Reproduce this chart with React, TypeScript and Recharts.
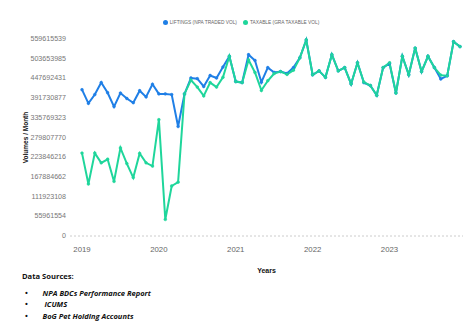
import React from "react";
import { LineChart, Line, XAxis, YAxis, Legend } from "recharts";

// monthly, Jan 2019 .. Dec 2023
const liftings = [
  415600000, 376800000, 401700000, 435800000, 407000000, 367600000, 406000000, 390600000, 378600000, 412800000, 395000000, 431000000,
  403600000, 403600000, 401700000, 311000000, 403600000, 448800000, 447000000, 424700000, 456000000, 448800000, 480000000, 510600000,
  438600000, 435800000, 515000000, 498600000, 436900000, 478400000, 464500000, 467000000, 461700000, 478400000, 506000000, 556800000,
  458000000, 469000000, 450700000, 515000000, 469000000, 478400000, 432000000, 492000000, 435500000, 427500000, 399700000, 478400000,
  490000000, 406000000, 510600000, 458000000, 533800000, 467000000, 510600000, 478400000, 446000000, 455000000, 552000000, 538000000,
];

const taxable = [
  235500000, 147700000, 235500000, 207800000, 218000000, 155000000, 250000000, 205800000, 166000000, 234600000, 207800000, 198600000,
  330500000, 47000000, 142000000, 153000000, 403600000, 443000000, 423000000, 398000000, 435800000, 423000000, 450700000, 510600000,
  438600000, 435800000, 500000000, 464500000, 413600000, 441000000, 461700000, 467000000, 459000000, 471000000, 506000000, 556800000,
  458000000, 469000000, 450700000, 515000000, 469000000, 478400000, 432000000, 492000000, 436900000, 427500000, 399700000, 478400000,
  492000000, 406000000, 510600000, 458000000, 533800000, 467000000, 510600000, 478400000, 457000000, 455000000, 552000000, 538000000,
];

const yearLabels = ["2019", "2020", "2021", "2022", "2023"];
const yTicks = [
  0, 55961554, 111923108, 167884662, 223846216, 279807770, 335769323, 391730877, 447692431, 503653985, 559615539,
];
const sources = ["NPA BDCs Performance Report", " ICUMS", "BoG Pet Holding Accounts"];

const BLUE = "#1f7fe6";
const GREEN = "#1fd69b";
const FONT = "Liberation Sans, Arial, sans-serif";

const data = liftings.map((v, i) => ({ m: i, liftings: v, taxable: taxable[i] }));

function LegendContent() {
  const items = [
    { name: "LIFTINGS (NPA TRADED VOL)", color: BLUE },
    { name: "TAXABLE (GRA TAXABLE VOL)", color: GREEN },
  ];
  return (
    <div style={{ display: "flex", justifyContent: "center", gap: 6, fontFamily: FONT, fontSize: 4.8, color: "#666", paddingLeft: 8 }}>
      {items.map((it) => (
        <div key={it.name} style={{ display: "flex", alignItems: "center" }}>
          <span style={{ width: 5, height: 5, borderRadius: "50%", background: it.color, marginRight: 2 }} />
          {it.name}
        </div>
      ))}
    </div>
  );
}

function YLabel(props: any) {
  const { viewBox } = props;
  const x = 25.5;
  const y = viewBox.y + viewBox.height / 2;
  return (
    <text x={x} y={y} transform={`rotate(-90, ${x}, ${y})`} textAnchor="middle" dominantBaseline="central"
      fontSize={6.5} fontWeight="bold" fill="#111" style={{ fontFamily: FONT }}>
      Volumes / Month
    </text>
  );
}

function YTick(props: any) {
  const { x, y, payload } = props;
  return (
    <text x={x + 2} y={y} textAnchor="end" dominantBaseline="central" fontSize={7.1} fill="#777" style={{ fontFamily: FONT }}>
      {payload.value}
    </text>
  );
}

function XTick(props: any) {
  const { x, y, payload } = props;
  return (
    <text x={x} y={y + 7} textAnchor="middle" dominantBaseline="central" fontSize={7.8} fill="#666" style={{ fontFamily: FONT }}>
      {yearLabels[payload.value / 12]}
    </text>
  );
}

export default function App() {
  return (
    <div style={{ position: "absolute", left: 0, top: 0, width: 474, height: 335, background: "#fff", fontFamily: FONT }}>
      <LineChart width={474} height={280} data={data} margin={{ top: 34, right: 11, bottom: 4, left: 10 }}>
        <Legend verticalAlign="top" content={<LegendContent />} wrapperStyle={{ top: 20, left: 0, width: 474 }} />
        <XAxis
          dataKey="m"
          type="number"
          domain={[0, 59]}
          ticks={[0, 12, 24, 36, 48]}
          padding={{ left: 12, right: 3 }}
          height={40}
          axisLine={{ stroke: "#ccc", strokeDasharray: "2 2" }}
          tickLine={false}
          tick={<XTick />}
          tickMargin={0}
          label={{ value: "Years", position: "insideBottom", offset: 3, fontSize: 7, fontWeight: "bold", fill: "#111", fontFamily: FONT }}
        />
        <YAxis
          type="number"
          domain={[0, 559615539]}
          ticks={yTicks}
          interval={0}
          width={60}
          axisLine={false}
          tickLine={false}
          tick={<YTick />}
          tickMargin={0}
          label={<YLabel />}
        />
        <Line type="linear" dataKey="liftings" name="LIFTINGS (NPA TRADED VOL)" stroke={BLUE} strokeWidth={2}
          dot={{ r: 1.4, fill: BLUE, stroke: BLUE, strokeWidth: 0.5 }} isAnimationActive={false} />
        <Line type="linear" dataKey="taxable" name="TAXABLE (GRA TAXABLE VOL)" stroke={GREEN} strokeWidth={2}
          dot={{ r: 1.4, fill: GREEN, stroke: GREEN, strokeWidth: 0.5 }} isAnimationActive={false} />
      </LineChart>
      <div style={{ position: "absolute", left: 22, top: 271, fontFamily: "'Open Sans', sans-serif", color: "#111" }}>
        <div style={{ fontWeight: "bold", fontSize: 7.6, marginBottom: 7 }}>Data Sources:</div>
        {sources.map((s) => (
          <div key={s} style={{ display: "flex", fontSize: 7.5, lineHeight: "11.4px", fontWeight: "bold", fontStyle: "italic", whiteSpace: "pre" }}>
            <span style={{ width: 17.5, paddingLeft: 3, fontStyle: "normal" }}>•</span>
            <span>{s}</span>
          </div>
        ))}
      </div>
    </div>
  );
}
